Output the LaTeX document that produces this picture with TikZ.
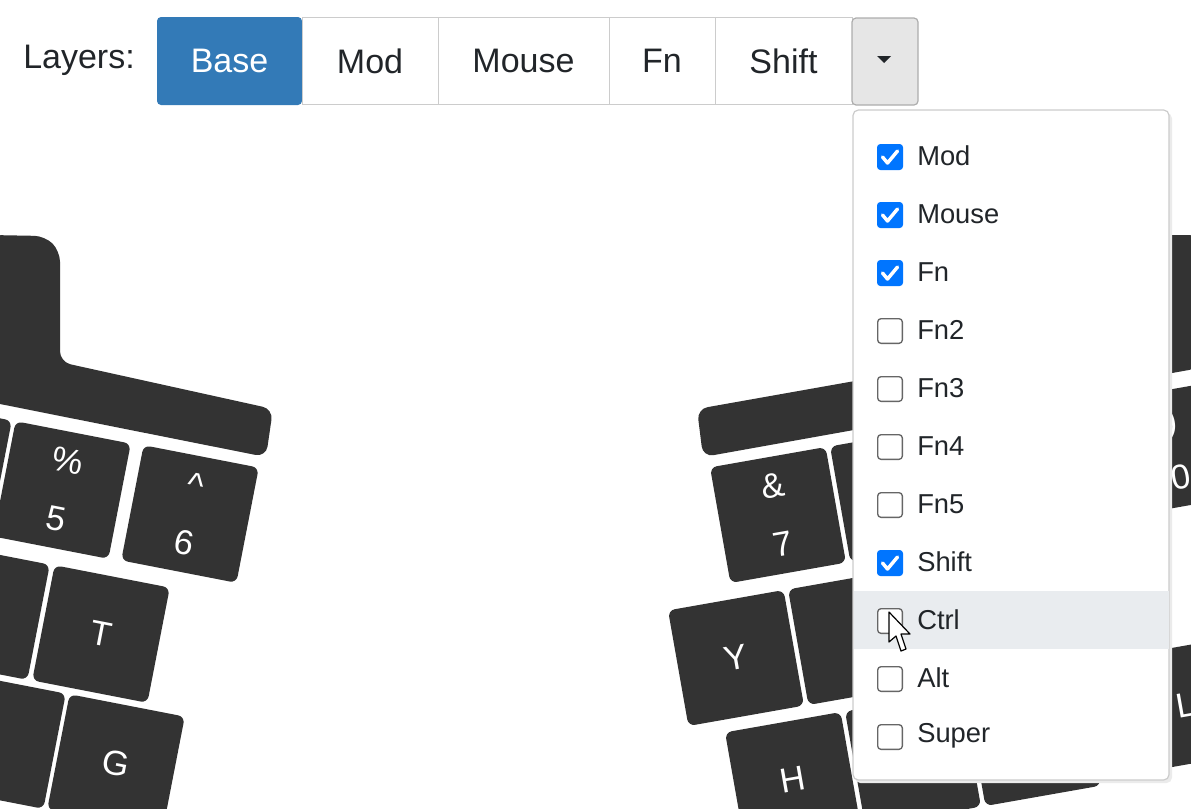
\documentclass[tikz,border=0pt]{standalone}
\usepackage{fontspec}
\setmainfont{Liberation Sans}
\definecolor{keyc}{HTML}{333333}
\definecolor{btnblue}{HTML}{337AB7}
\definecolor{btnbord}{HTML}{CCCCCC}
\definecolor{ddgray}{HTML}{E6E6E6}
\definecolor{ddbord}{HTML}{ADADAD}
\definecolor{chk}{HTML}{0075FF}
\definecolor{hl}{HTML}{E9ECEF}
\definecolor{txt}{HTML}{212529}
\begin{document}
\begin{tikzpicture}[x=0.75pt,y=-0.75pt,
  key/.style={fill=keyc,rounded corners=5pt,minimum width=88pt,minimum height=88pt,inner sep=0pt,text=white,align=center,font=\fontsize{26}{44}\selectfont},
  btnt/.style={font=\fontsize{25.5}{30}\selectfont,text=txt},
  item/.style={anchor=west,font=\fontsize{20.5}{24}\selectfont,text=txt,inner sep=0pt},
  box/.style={draw=black!60,line width=1pt,rounded corners=2.5pt,fill=white,minimum size=18.5pt,inner sep=0pt},
  cbox/.style={fill=chk,rounded corners=2.5pt,minimum size=19.5pt,inner sep=0pt},
  tick/.style={white,line width=2.6pt,line cap=round,line join=round}]
\useasboundingbox (0,0) rectangle (1191,808);
\begin{scope}
\clip (0,0) rectangle (1191,808);
% left keyboard half
\fill[keyc,rounded corners=8pt] (-10,235) -- (45,236) -- (60,251) -- (60,362) -- (273,409) -- (266,457) -- (-10,402) -- cycle;
\node[key,rotate=-11] (k4) at (-57,467) {};
\node[key,rotate=-11] (k5) at (62,490) {\%\\5};
\node[key,rotate=-11] (k6) at (190,514) {\textasciicircum\\6};
\node[key,rotate=-11] (kR) at (-19,611) {};
\node[key,rotate=-11] (kT) at (101,634) {T};
\node[key,rotate=-11] (kF) at (-3,740) {};
\node[key,rotate=-11] (kG) at (116,763) {G};
% right keyboard half
\fill[keyc,rounded corners=8pt] (697,409) -- (1131,332) -- (1131,250) -- (1146,235) -- (1200,235) -- (1200,368) -- (703,457) -- cycle;
\node[key,rotate=10] (k7) at (778,515) {\&\\7};
\node[key,rotate=10] (k8) at (898,494) {};
\node[key,rotate=10] (k9) at (1018,473) {};
\node[key,rotate=10] (k0) at (1176,448) {)\\0};
\node[key,rotate=10] (kY) at (736,658) {Y};
\node[key,rotate=10] (kU) at (856,637) {};
\node[key,rotate=10] (kI) at (976,616) {};
\node[key,rotate=10] (kL) at (1186,705) {L};
\node[key,rotate=10] (kH) at (793,780) {H};
\node[key,rotate=10] (kJ) at (913,759) {};
\node[key,rotate=10] (kK) at (1033,738) {};
\end{scope}
% top bar
\node[anchor=west,inner sep=0pt,btnt] (lay) at (23,60) {Layers:};
\fill[btnblue,rounded corners=3pt] (157,17) rectangle (302,105);
\node[btnt,text=white] (bBase) at (229.5,61) {Base};
\draw[btnbord,line width=0.75pt] (302,17.5) rectangle (438,104.5);
\node[btnt] (bMod) at (370,61) {Mod};
\draw[btnbord,line width=0.75pt] (438,17.5) rectangle (609,104.5);
\node[btnt] (bMouse) at (523.5,61) {Mouse};
\draw[btnbord,line width=0.75pt] (609,17.5) rectangle (715,104.5);
\node[btnt] (bFn) at (662,61) {Fn};
\draw[btnbord,line width=0.75pt] (715,17.5) rectangle (852,104.5);
\node[btnt] (bShift) at (783.5,61) {Shift};
\draw[ddbord,fill=ddgray,line width=0.9pt,rounded corners=3pt] (852,18) -- (918,18) -- (918,105) -- (852,105) -- cycle;
\fill[txt] (877,56) -- (891,56) -- (884,63) -- cycle;
% dropdown menu
\fill[black!8,rounded corners=4pt] (855,113) rectangle (1172,783);
\draw[black!20,fill=white,line width=0.9pt,rounded corners=4pt] (853,110) rectangle (1169,780);
\fill[hl] (853.5,591) rectangle (1168.5,649);
\foreach \y/\t/\c [count=\i] in {156/Mod/1,214/Mouse/1,272/Fn/1,330/Fn2/0,388/Fn3/0,446/Fn4/0,504/Fn5/0,562/Shift/1,620/Ctrl/0,678/Alt/0,736/Super/0}{
  \ifnum\c=1
    \node[cbox] (cb\i) at (890,\y+1) {};
    \draw[tick] (882.5,\y+1) -- (887.5,\y+7) -- (897.5,\y-5);
  \else
    \node[box] (cb\i) at (890,\y+1) {};
  \fi
  \node[item] (it\i) at (917,\y) {\t};
}
% cursor
\draw[black,fill=white,line width=0.9pt,line join=round] (889,612) -- (889,642) -- (896,636) -- (901,651) -- (906,649) -- (901,634) -- (910,634) -- cycle;
\end{tikzpicture}
\end{document}
